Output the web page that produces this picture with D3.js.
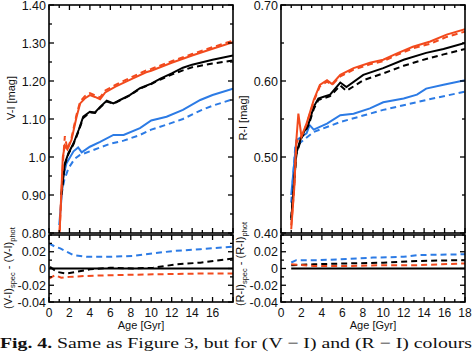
<!DOCTYPE html>
<html>
<head>
<meta charset="utf-8">
<script src="https://cdn.jsdelivr.net/npm/d3@7"></script>
<style>
  body { margin: 0; background: #fff; }
  svg { display: block; }
  text { font-family: "Liberation Sans", Arial, sans-serif; fill: #111; }
</style>
</head>
<body>
<div id="chart"></div>
<script>
// ---- data ----
// V-I, upper left panel
const viRedSolid   = [[1.0,0.78],[1.15,0.87],[1.35,1.0],[1.55,1.03],[1.8,1.02],[2.2,1.045],[2.7,1.106],[3.05,1.141],[3.5,1.154],[4.0,1.163],[4.5,1.158],[5.0,1.152],[5.5,1.170],[6.5,1.185],[7.9,1.203],[9.5,1.223],[10.0,1.227],[12.0,1.248],[14.0,1.267],[16.0,1.285],[18.0,1.302]];
const viRedDash    = [[1.0,0.78],[1.2,0.9],[1.4,1.0],[1.55,1.055],[1.8,1.02],[2.2,1.05],[2.7,1.112],[3.05,1.146],[3.5,1.160],[4.0,1.168],[4.5,1.162],[5.0,1.157],[5.5,1.175],[6.5,1.190],[7.9,1.208],[9.5,1.228],[10.0,1.232],[12.0,1.252],[14.0,1.271],[16.0,1.289],[18.0,1.306]];
const viBlackSolid = [[1.2,0.90],[1.55,0.983],[1.9,1.010],[2.4,1.036],[2.9,1.071],[3.35,1.106],[4.0,1.119],[4.5,1.117],[5.0,1.132],[5.65,1.148],[6.3,1.141],[6.95,1.150],[7.9,1.163],[8.9,1.181],[10.0,1.193],[10.9,1.206],[12.0,1.220],[13.1,1.235],[14.0,1.243],[16.0,1.256],[18.0,1.267]];
const viBlackDash  = [[1.2,0.90],[1.55,0.98],[1.9,1.008],[2.4,1.034],[2.9,1.068],[3.35,1.103],[4.0,1.117],[4.5,1.116],[5.0,1.130],[5.65,1.146],[6.3,1.140],[6.95,1.149],[7.9,1.162],[8.9,1.180],[10.0,1.192],[10.9,1.204],[12.0,1.217],[13.1,1.228],[14.0,1.236],[16.0,1.246],[18.0,1.254]];
const viBlueSolid  = [[1.0,0.821],[1.4,0.948],[1.7,0.983],[2.4,1.015],[2.85,1.025],[3.2,1.012],[4.0,1.027],[5.0,1.040],[6.3,1.058],[7.3,1.058],[8.9,1.076],[10.0,1.096],[11.5,1.106],[13.1,1.124],[14.8,1.150],[16.0,1.163],[18.0,1.180]];
const viBlueDash   = [[1.2,0.90],[1.5,0.94],[1.9,0.97],[2.5,0.995],[3.0,1.005],[4.0,1.015],[5.0,1.025],[6.0,1.035],[7.3,1.043],[8.9,1.058],[10.0,1.072],[11.5,1.085],[13.1,1.100],[14.8,1.122],[16.0,1.135],[18.0,1.152]];

// R-I, upper right panel
const riRedSolid   = [[1.0,0.405],[1.3,0.46],[1.5,0.522],[1.7,0.557],[2.0,0.527],[2.5,0.544],[3.2,0.575],[3.8,0.595],[4.5,0.601],[5.0,0.596],[5.8,0.608],[7.1,0.617],[8.7,0.624],[10.0,0.628],[11.3,0.636],[12.9,0.645],[14.6,0.652],[16.2,0.661],[18.0,0.668]];
const riRedDash    = [[1.0,0.41],[1.3,0.46],[1.5,0.518],[1.8,0.526],[2.0,0.527],[2.5,0.543],[3.2,0.573],[3.8,0.593],[4.5,0.599],[5.0,0.595],[5.8,0.606],[7.1,0.615],[8.7,0.622],[10.0,0.626],[11.3,0.634],[12.9,0.643],[14.6,0.649],[16.2,0.658],[18.0,0.665]];
const riBlackSolid = [[1.0,0.417],[1.5,0.505],[2.0,0.527],[2.7,0.544],[3.2,0.566],[3.65,0.577],[4.1,0.579],[4.8,0.582],[5.8,0.598],[6.4,0.592],[8.05,0.608],[10.0,0.617],[12.0,0.628],[14.2,0.637],[15.9,0.642],[18.0,0.650]];
const riBlackDash  = [[1.0,0.42],[1.5,0.503],[2.0,0.525],[2.7,0.542],[3.2,0.563],[3.65,0.575],[4.1,0.577],[4.8,0.580],[5.8,0.594],[6.4,0.587],[8.05,0.601],[10.0,0.610],[12.0,0.620],[14.2,0.629],[15.9,0.635],[18.0,0.642]];
const riBlueSolid  = [[1.0,0.45],[1.5,0.522],[2.5,0.531],[2.8,0.542],[3.2,0.536],[4.5,0.544],[5.8,0.555],[7.1,0.557],[8.7,0.564],[10.0,0.572],[12.0,0.577],[13.3,0.582],[14.2,0.590],[15.9,0.595],[18.0,0.601]];
const riBlueDash   = [[1.0,0.44],[1.4,0.514],[2.0,0.520],[3.2,0.533],[5.8,0.546],[10.0,0.562],[14.2,0.575],[18.0,0.586]];

// differences, lower panels
const dviBlue  = [[0,0.030],[0.6,0.026],[1.1,0.024],[2.4,0.016],[3.7,0.014],[6,0.014],[8.2,0.015],[10.2,0.018],[12.2,0.021],[14.8,0.023],[18,0.026]];
const dviBlack = [[0.1,0.002],[0.75,-0.004],[1.7,-0.006],[2.7,-0.004],[4,-0.001],[6,0.001],[8.2,0],[10.2,0.001],[12.5,0.005],[14.8,0.007],[18,0.012]];
const dviRed   = [[0,-0.012],[0.6,-0.008],[1.2,-0.011],[2,-0.010],[3.4,-0.009],[6,-0.008],[10.2,-0.007],[14.8,-0.006],[18,-0.006]];
const driBlue  = [[1,0.0072],[1.5,0.010],[3.5,0.010],[5.8,0.011],[9,0.013],[12,0.014],[13.3,0.016],[18,0.017]];
const driBlack = [[1,0.004],[3.2,0.005],[6.4,0.006],[10,0.007],[13.3,0.009],[18,0.010]];
const driRed   = [[1,0.005],[3.2,0.003],[6.4,0.003],[10,0.004],[13.3,0.004],[18,0.006]];

const xTicks   = [0,2,4,6,8,10,12,14,16,18];
const viTicks  = [0.80,0.90,1.0,1.10,1.20,1.30,1.40];
const viLabels = ["0.80","0.90","1.0","1.10","1.20","1.30","1.40"];
const riTicks  = [0.40,0.50,0.60,0.70];
const riLabels = ["0.40","0.50","0.60","0.70"];
const dTicks   = [-0.04,-0.02,0,0.02];
const dLabels  = ["-0.04","-0.02","0","0.02"];

const RED = "#f24a1d", BLUE = "#2c7be5", BLACK = "#000";

const W = 474, H = 352;
const svg = d3.select("#chart").append("svg").attr("width", W).attr("height", H);

function panel(o) {
  const x = d3.scaleLinear([0, 18], [o.x0, o.x1]);
  const y = d3.scaleLinear(o.yDomain, [o.y1, o.y0]);
  const g = svg.append("g");

  const line = d3.line().x(d => x(d[0])).y(d => y(d[1]));
  const clipId = "clip" + Math.round(o.x0) + "_" + Math.round(o.y0);
  svg.append("clipPath").attr("id", clipId)
    .append("rect").attr("x", o.x0).attr("y", o.y0).attr("width", o.x1 - o.x0).attr("height", o.y1 - o.y0);

  const lines = g.append("g").attr("clip-path", `url(#${clipId})`);
  o.series.forEach(s => {
    lines.append("path")
      .datum(s.data)
      .attr("fill", "none")
      .attr("stroke", s.color)
      .attr("stroke-width", 2)
      .attr("stroke-dasharray", s.dash ? "6,4" : null)
      .attr("d", line);
  });

  // ticks on all four sides, pointing inwards
  const tk = g.append("g").attr("stroke", "#000").attr("stroke-width", 1.3);
  d3.range(0, 19, 1).forEach(v => {
    const len = v % 2 === 0 ? 5 : 3;
    tk.append("line").attr("x1", x(v)).attr("x2", x(v)).attr("y1", o.y1).attr("y2", o.y1 - len);
    tk.append("line").attr("x1", x(v)).attr("x2", x(v)).attr("y1", o.y0).attr("y2", o.y0 + len);
  });
  o.yMinor.forEach(v => {
    const major = o.yMajor.some(m => Math.abs(m - v) < 1e-9);
    const len = major ? 5 : 3;
    tk.append("line").attr("x1", o.x0).attr("x2", o.x0 + len).attr("y1", y(v)).attr("y2", y(v));
    tk.append("line").attr("x1", o.x1).attr("x2", o.x1 - len).attr("y1", y(v)).attr("y2", y(v));
  });

  g.append("rect")
    .attr("x", o.x0).attr("y", o.y0)
    .attr("width", o.x1 - o.x0).attr("height", o.y1 - o.y0)
    .attr("fill", "none").attr("stroke", "#000").attr("stroke-width", 1.6);

  // y labels
  g.selectAll(".yl").data(o.yTicks).join("text")
    .attr("x", o.x0 - 3).attr("y", d => y(d)).attr("dy", "0.36em")
    .attr("text-anchor", "end").attr("font-size", 12.5)
    .text((d, i) => o.yLabels[i]);

  if (o.xTicks) {
    g.selectAll(".xl").data(o.xTicks).join("text")
      .attr("x", d => x(d)).attr("y", o.y1 + 15)
      .attr("text-anchor", "middle").attr("font-size", 12)
      .text(d => d);
  }
  return { x, y };
}

// panel geometry
const L = { x0: 49, x1: 233 }, R = { x0: 281, x1: 465 };
const TOP = { y0: 5, y1: 233 }, BOT = { y0: 235, y1: 302 };

panel({ ...L, ...TOP, yDomain: [0.80, 1.40], yTicks: viTicks, yLabels: viLabels,
  yMajor: viTicks, yMinor: d3.range(0.80, 1.4001, 0.05),
  series: [
    { data: viBlueDash, color: BLUE, dash: true }, { data: viBlueSolid, color: BLUE },
    { data: viBlackDash, color: BLACK, dash: true }, { data: viBlackSolid, color: BLACK },
    { data: viRedDash, color: RED, dash: true }, { data: viRedSolid, color: RED }
  ] });
panel({ ...R, ...TOP, yDomain: [0.40, 0.70], yTicks: riTicks, yLabels: riLabels,
  yMajor: riTicks, yMinor: d3.range(0.40, 0.7001, 0.05),
  series: [
    { data: riBlueDash, color: BLUE, dash: true }, { data: riBlueSolid, color: BLUE },
    { data: riBlackDash, color: BLACK, dash: true }, { data: riBlackSolid, color: BLACK },
    { data: riRedDash, color: RED, dash: true }, { data: riRedSolid, color: RED }
  ] });
panel({ ...L, ...BOT, yDomain: [-0.04, 0.04], yTicks: dTicks, yLabels: dLabels,
  yMajor: dTicks, yMinor: d3.range(-0.04, 0.0401, 0.01), xTicks: xTicks.slice(0, 9),
  series: [
    { data: [[0, 0], [18, 0]], color: BLACK },
    { data: dviBlue, color: BLUE, dash: true },
    { data: dviBlack, color: BLACK, dash: true },
    { data: dviRed, color: RED, dash: true }
  ] });
panel({ ...R, ...BOT, yDomain: [-0.04, 0.04], yTicks: dTicks, yLabels: dLabels,
  yMajor: dTicks, yMinor: d3.range(-0.04, 0.0401, 0.01), xTicks: xTicks,
  series: [
    { data: [[1, 0], [18, 0]], color: BLACK },
    { data: driBlue, color: BLUE, dash: true },
    { data: driBlack, color: BLACK, dash: true },
    { data: driRed, color: RED, dash: true }
  ] });

// axis titles
function vLabel(x, y, a, b) {
  const t = svg.append("text").attr("transform", `translate(${x},${y}) rotate(-90)`)
    .attr("text-anchor", "middle").attr("font-size", 11);
  if (!b) { t.text(a); return; }
  t.append("tspan").text(a);
  t.append("tspan").attr("font-size", 7.5).attr("dy", 3).text("spec");
  t.append("tspan").attr("dy", -3).text(" - " + a);
  t.append("tspan").attr("font-size", 7.5).attr("dy", 3).text("phot");
}
vLabel(15, 98, "V-I [mag]");
vLabel(247, 118, "R-I [mag]");
vLabel(12, 268, "(V-I)", true);
vLabel(244, 264, "(R-I)", true);

svg.append("text").attr("x", 141).attr("y", 329).attr("text-anchor", "middle").attr("font-size", 11).text("Age [Gyr]");
svg.append("text").attr("x", 373).attr("y", 329).attr("text-anchor", "middle").attr("font-size", 11).text("Age [Gyr]");

// caption, squeezed to fit the width
const cap = svg.append("text").attr("x", 0).attr("y", 348)
  .attr("textLength", 472).attr("lengthAdjust", "spacingAndGlyphs")
  .style("font-family", "'Liberation Serif', 'DejaVu Serif', serif").attr("font-size", 15);
cap.append("tspan").attr("font-weight", "bold").text("Fig. 4.");
cap.append("tspan").text("  Same as Figure 3, but for (V − I) and (R − I) colours");
</script>
</body>
</html>
